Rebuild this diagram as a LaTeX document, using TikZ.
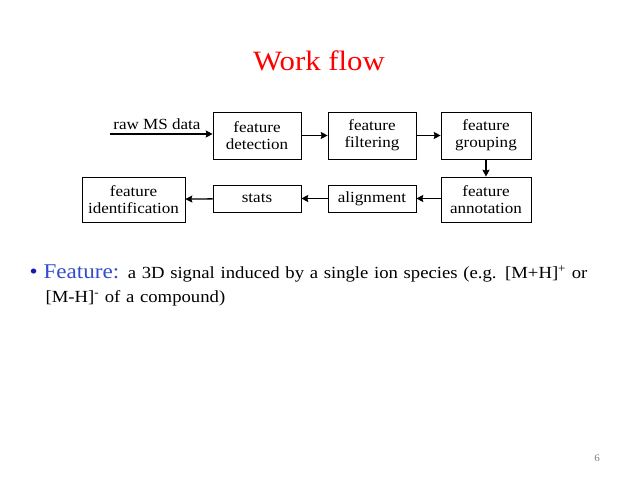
\documentclass[tikz,border=0pt]{standalone}
\usepackage{fontspec}
\usetikzlibrary{arrows.meta}
\setmainfont[FakeStretch=1.1]{Liberation Serif}
\begin{document}
\begin{tikzpicture}[x=1pt,y=-1pt,
  box/.style={draw,line width=0.6pt,align=center,font=\fontsize{15.5}{17}\selectfont,inner sep=0pt},
  arr/.style={-{Stealth[length=7pt,width=7pt,inset=1pt]},line width=1.3pt}]
\useasboundingbox (0,0) rectangle (638,478);
\node[text=red,font=\fontsize{28}{30}\selectfont] (title) at (319,61) {Work flow};
\node[box,minimum width=88pt,minimum height=47pt] (det) at (257,135.5) {feature\\detection};
\node[box,minimum width=88pt,minimum height=47pt] (fil) at (372,135.5) {feature\\filtering};
\node[box,minimum width=90pt,minimum height=47pt] (grp) at (486,135.5) {feature\\grouping};
\node[box,minimum width=90pt,minimum height=45pt] (ann) at (486,199.5) {feature\\annotation};
\node[box,minimum width=88pt,minimum height=27pt] (ali) at (372,198.5) {alignment};
\node[box,minimum width=88pt,minimum height=27pt] (sta) at (257,198.5) {stats};
\node[box,minimum width=103pt,minimum height=45pt] (idn) at (133.5,199.5) {feature\\identification};
\coordinate (raw) at (110,134);
\node[font=\fontsize{15.5}{17}\selectfont] (rawt) at (157,124) {raw MS data};
\draw[arr] (raw) -- (det.west|-raw);
\draw[arr] (det) -- (fil);
\draw[arr] (fil) -- (grp);
\draw[arr] (grp) -- (ann);
\draw[arr] (ann.west|-ali) -- (ali);
\draw[arr] (ali) -- (sta);
\draw[arr] (sta) -- (idn);
\node[anchor=north west,align=left,text width=600pt,font=\fontsize{17}{24}\selectfont] (bul) at (26,261)
 {{\fontsize{21}{24}\selectfont\textcolor[rgb]{0.1,0.1,0.7}{•}\hspace{6pt}\textcolor[rgb]{0.2,0.3,0.8}{Feature:}} a 3D signal induced by a single ion species (e.g. [M+H]\textsuperscript{+} or\\
 \hspace{16pt}[M-H]\textsuperscript{-} of a compound)};
\node[text=gray,font=\fontsize{10}{11}\selectfont] (pg) at (597,458) {6};
\end{tikzpicture}
\end{document}
